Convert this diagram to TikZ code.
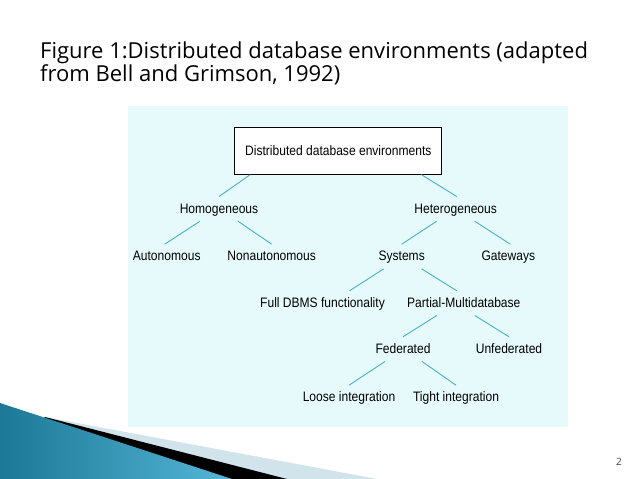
\documentclass[tikz,border=0pt]{standalone}
\usepackage{fontspec}
\setmainfont{Open Sans}
\newfontfamily\treefont[FakeStretch=0.88]{Liberation Sans}
\usepackage{tikz}
\usetikzlibrary{calc}

\definecolor{panelcyan}{RGB}{230,250,252}
\definecolor{branchteal}{RGB}{70,178,198}
\definecolor{swooshgray}{RGB}{210,228,235}
\definecolor{swooshdark}{RGB}{28,120,150}
\definecolor{swooshlight}{RGB}{85,182,215}

\tikzset{
  term/.style={inner sep=0pt, text height=16.3pt, text depth=8pt, anchor=base,
               font=\treefont\fontsize{13.7}{14}\selectfont},
  rootbox/.style={draw=black, line width=0.8pt, fill=white, inner sep=0pt,
                  minimum width=207pt, minimum height=47pt,
                  font=\treefont\fontsize{13.7}{14}\selectfont},
  branch/.style={draw=branchteal, line width=0.9pt},
  caption/.style={anchor=base west, inner sep=0pt, font=\fontsize{22}{26}\selectfont}
}

\begin{document}
\begin{tikzpicture}[x=1pt,y=-1pt]
     %\draw[step=20pt,very thin,color=blue!20] (0,0) grid (638,479);
     \useasboundingbox (0,0) rectangle (638,479);
     \fill[white] (0,0) rectangle (638,479);

     \node[caption] (title1) at (40,58.3) {Figure 1:Distributed database environments (adapted};
     \node[caption] (title2) at (40,81.7) {from Bell and Grimson, 1992)};

     \fill[panelcyan] (128,106) rectangle (568,427);

     \node[rootbox] (root) at (338.3,150.7) {Distributed database environments};

     \node[term] (homog)    at (219,213)     {Homogeneous};
     \node[term] (hetero)   at (455.7,213)   {Heterogeneous};
     \node[term] (auto)     at (166.7,260.7) {Autonomous};
     \node[term] (nonauto)  at (271.7,260.7) {Nonautonomous};
     \node[term] (systems)  at (401.7,260.7) {Systems};
     \node[term] (gateways) at (508.3,260.7) {Gateways};
     \node[term] (fulldbms) at (322.5,307.3) {Full DBMS functionality};
     \node[term] (partial)  at (463.8,307.3) {Partial-Multidatabase};
     \node[term] (fed)      at (403,353.3)   {Federated};
     \node[term] (unfed)    at (509,353.3)   {Unfederated};
     \node[term] (loose)    at (349,401.7)   {Loose integration};
     \node[term] (tight)    at (456,401.7)   {Tight integration};

     \draw[branch] ([xshift=-88pt]root.south) -- (homog.north);
     \draw[branch] ([xshift=83pt]root.south) -- ([xshift=1pt]hetero.north);
     \draw[branch] ([xshift=-19pt]homog.south) -- ([xshift=-2pt]auto.north);
     \draw[branch] ([xshift=19pt]homog.south) -- (nonauto.north);
     \draw[branch] ([xshift=-19pt]hetero.south) -- (systems.north);
     \draw[branch] ([xshift=19pt]hetero.south) -- ([xshift=2pt]gateways.north);
     \draw[branch] ([xshift=-18pt]systems.south) -- ([xshift=27pt]fulldbms.north);
     \draw[branch] ([xshift=20pt]systems.south) -- ([xshift=-7pt]partial.north);
     \draw[branch] ([xshift=-27pt]partial.south) -- (fed.north);
     \draw[branch] ([xshift=11pt]partial.south) -- (unfed.north);
     \draw[branch] ([xshift=-18pt]fed.south) -- (loose.north);
     \draw[branch] ([xshift=19pt]fed.south) -- (tight.north);

     % corner swoosh
     \fill[swooshgray] (45,417) -- (377,479) -- (0,479) -- cycle;
     \fill[black] (45,417) -- (287,479) -- (0,479) -- cycle;
     \shade[left color=swooshdark, right color=swooshlight] (0,403) -- (232,479) -- (0,479) -- cycle;

     \node[inner sep=0pt, text=black!75, font=\fontsize{10}{12}\selectfont] (pagenum) at (619,462) {2};
  \end{tikzpicture}
\end{document}
